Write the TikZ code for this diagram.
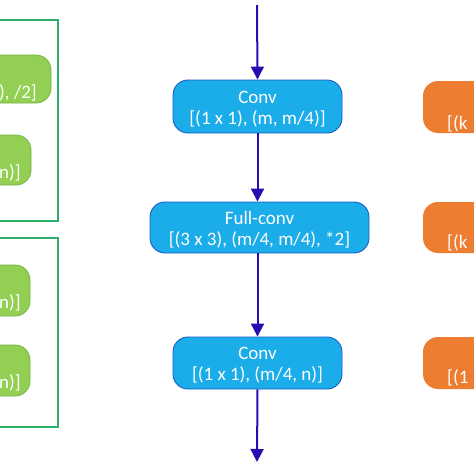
\documentclass[tikz,border=0pt]{standalone}
\usepackage{fontspec}
\setmainfont{Carlito}
\usetikzlibrary{arrows.meta}
\definecolor{bfill}{HTML}{1AADEA}
\definecolor{bdraw}{HTML}{1F5BC4}
\definecolor{arr}{HTML}{2A0BB0}
\definecolor{gfill}{HTML}{92CF52}
\definecolor{gdraw}{HTML}{72B543}
\definecolor{frame}{HTML}{2DAF6A}
\definecolor{ofill}{HTML}{ED7D31}
\tikzset{
  bluebox/.style={draw=bdraw, fill=bfill, line width=0.9pt, rounded corners=15pt, inner sep=0pt},
  bluetext/.style={text=white, align=center, inner sep=0pt, font=\fontsize{19}{21}\selectfont},
  greenbox/.style={draw=gdraw, fill=gfill, line width=0.8pt, rounded corners=15pt},
  orangebox/.style={fill=ofill, rounded corners=15pt},
  frm/.style={draw=frame, line width=1.6pt},
  lbl/.style={text=white, inner sep=0pt, font=\fontsize{19}{21}\selectfont},
  flow/.style={draw=arr, line width=2pt, -{Triangle[length=13pt,width=13pt]}},
}
\begin{document}
\begin{tikzpicture}[x=1pt,y=-1pt]
\useasboundingbox (0,0) rectangle (474,474);
\clip (0,0) rectangle (474,474);
% left frames
\draw[frm] (-20,20) rectangle (58,221);
\draw[frm] (-20,238) rectangle (58,427);
% green boxes
\draw[greenbox] (-60,55) rectangle (51,103);
\node[lbl, anchor=east] (g1) at (37,93) {), /2{]}};
\draw[greenbox] (-60,135) rectangle (31,185);
\node[lbl, anchor=east] (g2) at (21,173) {n){]}};
\draw[greenbox] (-60,265) rectangle (30,316);
\node[lbl, anchor=east] (g3) at (21,303) {n){]}};
\draw[greenbox] (-60,345) rectangle (30,396);
\node[lbl, anchor=east] (g4) at (21,383) {n){]}};
% orange boxes
\fill[orangebox] (423,81) rectangle (540,133);
\node[lbl, anchor=west] (o1) at (447,124) {{[}(k};
\fill[orangebox] (423,202) rectangle (540,253);
\node[lbl, anchor=west] (o2) at (447,243) {{[}(k};
\fill[orangebox] (423,337) rectangle (540,389);
\node[lbl, anchor=west] (o3) at (447,378) {{[}(1};
% center column
\coordinate (top) at (257,5);
\coordinate (bot) at (257,462);
\node[bluebox, minimum width=169pt, minimum height=53pt] (c1) at (257.5,106.5) {};
\node[bluetext] (c1t) at (257.5,109) {Conv\\{[}(1 x 1), (m, m/4){]}};
\node[bluebox, minimum width=219pt, minimum height=51pt] (c2) at (259.5,227.5) {};
\node[bluetext] (c2t) at (259.5,230) {Full-conv\\{[}(3 x 3), (m/4, m/4), *2{]}};
\node[bluebox, minimum width=169pt, minimum height=52pt] (c3) at (257.5,363) {};
\node[bluetext] (c3t) at (257.5,365.5) {Conv\\{[}(1 x 1), (m/4, n){]}};
\draw[flow] (top) -- (c1.north);
\draw[flow] (c1.south) -- (c1.south |- c2.north);
\draw[flow] (c1.south |- c2.south) -- (c3.north);
\draw[flow] (c3.south) -- (bot);
\end{tikzpicture}
\end{document}
